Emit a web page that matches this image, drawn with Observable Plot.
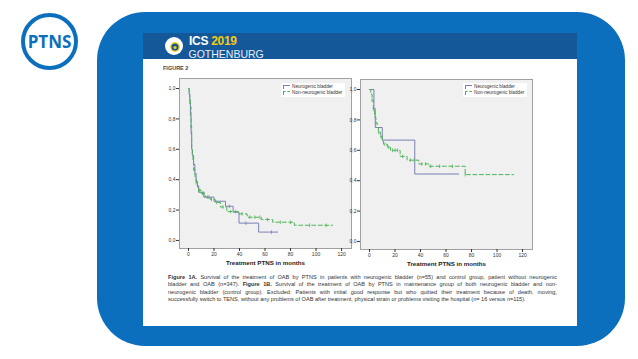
<!DOCTYPE html>
<html><head><meta charset="utf-8">
<script src="https://cdn.jsdelivr.net/npm/d3@7"></script>
<script src="https://cdn.jsdelivr.net/npm/@observablehq/plot@0.6"></script>
<style>
html,body{margin:0;padding:0;background:#fff;width:638px;height:359px;overflow:hidden;font-family:"Liberation Sans",Arial,sans-serif;}
.abs{position:absolute;}
#blue{left:97px;top:12px;width:528px;height:334px;background:#0b6fbd;border-radius:48px;}
#ptns{left:21px;top:13px;width:49px;height:49px;border:4px solid #0b6fbd;border-radius:50%;background:#fff;display:flex;align-items:center;justify-content:center;color:#0b6fbd;font-weight:bold;font-size:17px;font-family:"Open Sans","Liberation Sans",sans-serif;}
#poster{left:143px;top:33px;width:434px;height:293px;background:#fff;}
#header{left:143px;top:33px;width:434px;height:26px;background:#15589a;}
#fig2{left:163px;top:65px;font-size:5.5px;font-weight:bold;color:#444;}
.legend{background:#fff;font-size:4.7px;color:#333;line-height:6px;padding:1px 2px;white-space:nowrap;}
.legend .sym{display:inline-block;width:6px;height:3px;margin-right:2px;vertical-align:middle;}
.cap{left:168px;width:389px;font-size:5.6px;color:#333;line-height:7.4px;white-space:nowrap;}
.cap .l{text-align:justify;text-align-last:justify;}
.cap .last{text-align:left;}
</style></head>
<body>
<div id="blue" class="abs"></div>
<div id="ptns" class="abs">PTNS</div>
<div id="poster" class="abs"></div>
<div id="header" class="abs"></div>
<svg class="abs" style="left:164px;top:34px" width="110" height="25">
  <g transform="translate(0,2)">
    <circle cx="10" cy="10" r="9" fill="#fff"/>
    <path d="M10 1 A9 9 0 0 0 10 19 A6 6 0 0 1 10 1Z" fill="#f2cb14"/>
    <circle cx="11" cy="11" r="4.2" fill="#15589a" stroke="#f2cb14" stroke-width="1.3"/>
    <circle cx="11" cy="11.5" r="1.6" fill="#f2cb14"/>
  </g>
  <text x="25" y="11" font-family="Liberation Sans, Arial, sans-serif"><tspan font-weight="bold" font-size="12" letter-spacing="-0.3" fill="#fff">ICS </tspan><tspan font-weight="bold" font-size="12" letter-spacing="-0.3" fill="#f2cb14">2019</tspan><tspan x="24.5" dy="12.5" font-size="10.5" fill="#e8eef6">GOTHENBURG</tspan></text>
</svg>
<div id="fig2" class="abs">FIGURE 2</div>
<div id="chartA" class="abs" style="left:150px;top:70px"></div>
<div id="chartB" class="abs" style="left:331px;top:71px"></div>
<div class="abs legend" id="legA" style="left:281px;top:83px;width:60px"></div>
<div class="abs legend" id="legB" style="left:463px;top:83px;width:60px"></div>
<div class="abs cap" id="cap" style="top:274px"></div>
<script>
// ---- data ----
const xTicks = [0, 20, 40, 60, 80, 100, 120];
const yTicks = [0, 0.2, 0.4, 0.6, 0.8, 1.0];
const seriesNames = ["Neurogenic bladder", "Non-neurogenic bladder"];
const xTitle = "Treatment PTNS in months";

// Figure 1A
const neuroA_t = [0, 0.5, 1, 1.5, 2, 2.5, 3, 4, 5, 6, 7, 8, 12, 20, 29, 35, 39.6, 55, 70];
const neuroA_s = [1.0, 0.96, 0.9, 0.82, 0.7, 0.6, 0.56, 0.5, 0.44, 0.39, 0.36, 0.317, 0.285, 0.258, 0.225, 0.186, 0.114, 0.055, 0.055];
const neuroA_cens = [16, 32, 45, 65];
const nonA_t = [0, 0.5, 1, 1.5, 2, 2.5, 3, 3.5, 4, 5, 6, 7, 8, 10, 13, 17, 21, 25, 30, 39.5, 46, 57, 66, 83, 113];
const nonA_s = [1.0, 0.97, 0.93, 0.88, 0.75, 0.61, 0.57, 0.52, 0.47, 0.42, 0.38, 0.35, 0.33, 0.31, 0.285, 0.27, 0.25, 0.22, 0.19, 0.175, 0.153, 0.138, 0.12, 0.1, 0.1];
const nonA_cens = [2, 4, 6, 8, 9, 11, 12, 15, 18, 22, 27, 33, 37, 42, 48, 52, 56, 62, 72, 80, 95, 108];

// Figure 1B
const neuroB_t = [0, 3.5, 4.5, 10, 35.5, 70];
const neuroB_s = [1.0, 0.875, 0.75, 0.667, 0.444, 0.444];
const neuroB_cens = [];
const nonB_t = [0, 1, 2, 3, 4, 5, 6, 7, 8.5, 10, 11, 14, 16.5, 24, 29.5, 38.7, 46.5, 75, 113];
const nonB_s = [1.0, 0.97, 0.93, 0.87, 0.82, 0.78, 0.75, 0.72, 0.69, 0.66, 0.64, 0.62, 0.60, 0.56, 0.535, 0.51, 0.495, 0.44, 0.44];
const nonB_cens = [2, 3, 5, 7, 9, 12, 15, 18, 20, 22, 26, 32, 35, 41, 44, 48, 55, 65, 75];

const captionLines = [
  ["Figure 1A.", " Survival of the treatment of OAB by PTNS in patients with neurogenic bladder (n=55) and control group, patient without neurogenic"],
  ["", "bladder and OAB (n=347). ", "Figure 1B.", " Survival of the treatment of OAB by PTNS in maintenance group of both neurogenic bladder and non-"],
  ["", "neurogenic bladder (control group). Excluded: Patients with initial good response but who quitted their treatment because of death, moving,"],
  ["", "successfully switch to TENS, without any problems of OAB after treatment, physical strain or problems visiting the hospital (n= 16 versus n=115)."]
];

// ---- drawing ----
const blue = "#7a80b5", green = "#4fb45a";
const steps = (ts, ss) => ts.map((t, i) => ({t, s: ss[i]}));
const at = (ts, ss, t) => { let v = ss[0]; for (let i = 0; i < ts.length; i++) if (ts[i] <= t) v = ss[i]; return v; };
const vtick = {draw(ctx, size) { const r = Math.sqrt(size / Math.PI); ctx.moveTo(0, -r); ctx.lineTo(0, r); }};

function panel(nT, nS, nC, gT, gS, gC) {
  return Plot.plot({
    width: 205, height: 200, marginLeft: 29, marginRight: 4, marginTop: 8, marginBottom: 22,
    style: {fontSize: "5px", fontFamily: "Liberation Sans, Arial, sans-serif", background: "transparent", color: "#333"},
    x: {domain: [-7.06, 127.8]},
    y: {domain: [-0.053, 1.066]},
    marks: [
      Plot.frame({fill: "#f0f0f0", stroke: "#a0a0a0"}),
      Plot.axisX({ticks: xTicks, tickSize: 3, tickPadding: 1, label: null}),
      Plot.axisY({ticks: yTicks, tickSize: 3, tickPadding: 1, label: null, tickFormat: d => d.toFixed(1).replace(".", ",")}),
      Plot.line(steps(nT, nS), {x: "t", y: "s", curve: "step-after", stroke: blue, strokeWidth: 1}),
      Plot.dot(nC.map(t => ({t, s: at(nT, nS, t)})), {x: "t", y: "s", symbol: vtick, r: 1.8, fill: "none", stroke: blue, strokeWidth: 0.8}),
      Plot.line(steps(gT, gS), {x: "t", y: "s", curve: "step-after", stroke: green, strokeWidth: 1, strokeDasharray: "4,2.5"}),
      Plot.dot(gC.map(t => ({t, s: at(gT, gS, t)})), {x: "t", y: "s", symbol: vtick, r: 1.8, fill: "none", stroke: green, strokeWidth: 0.8}),
      Plot.text([xTitle], {frameAnchor: "bottom", dy: 16, fontWeight: "bold", fontSize: 6.2, fill: "#222"})
    ]
  });
}
document.getElementById("chartA").append(panel(neuroA_t, neuroA_s, neuroA_cens, nonA_t, nonA_s, nonA_cens));
document.getElementById("chartB").append(panel(neuroB_t, neuroB_s, neuroB_cens, nonB_t, nonB_s, nonB_cens));

function legend(el) {
  el.innerHTML = seriesNames.map((n, i) =>
    `<div><span class="sym" style="border-top:1px ${i ? "dashed" : "solid"} ${i ? green : blue};border-left:1px solid ${i ? green : blue}"></span>${n}</div>`).join("");
}
legend(document.getElementById("legA"));
legend(document.getElementById("legB"));

document.getElementById("cap").innerHTML = captionLines.map((parts, i) => {
  const html = parts.map((p, j) => (j % 2 === 0 ? `<b>${p}</b>` : p)).join("");
  return `<div class="${i === captionLines.length - 1 ? "last" : "l"}">${html}</div>`;
}).join("");
</script>
</body></html>
